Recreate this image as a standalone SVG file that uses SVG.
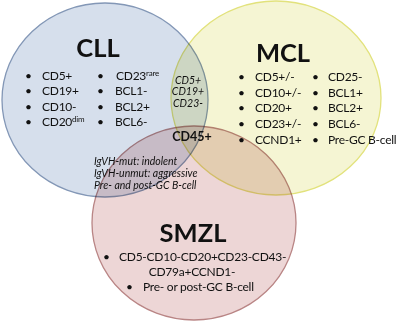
<svg xmlns="http://www.w3.org/2000/svg" width="400" height="322" viewBox="0 0 400 322">
<style>
.c{mix-blend-mode:multiply;stroke-width:1.3}
text{font-family:Lato,"Open Sans","Liberation Sans",sans-serif;fill:#111}
.t{font-size:25.5px;font-weight:bold;text-anchor:middle}
.b{font-size:12px;letter-spacing:-0.25px}
.i{font-size:10.5px;font-style:italic}
.m{font-size:10.5px;font-style:italic;text-anchor:middle}
.sup{font-size:8px}
</style>
<rect width="400" height="322" fill="#fff"/>
<g id="connectors"/>
<g id="cll">
<ellipse class="c" cx="105" cy="100" rx="103" ry="97" fill="#d6dfec" stroke="#8397b6"/>
<text class="t" x="98" y="57">CLL</text>
<g class="b">
<text x="25" y="79.5">•</text><text x="42" y="79.5">CD5+</text>
<text x="25" y="95">•</text><text x="42" y="95">CD19+</text>
<text x="25" y="110.5">•</text><text x="42" y="110.5">CD10-</text>
<text x="25" y="126">•</text><text x="42" y="126">CD20<tspan class="sup" dy="-4">dim</tspan></text>
<text x="97" y="79.5">•</text><text x="116" y="79.5">CD23<tspan class="sup" dy="-4">rare</tspan></text>
<text x="97" y="95">•</text><text x="115" y="95">BCL1-</text>
<text x="97" y="110.5">•</text><text x="115" y="110.5">BCL2+</text>
<text x="97" y="126">•</text><text x="115" y="126">BCL6-</text>
</g>
<text class="i" x="94" y="164.5">IgVH-mut: indolent</text>
<text class="i" x="94" y="176.5">IgVH-unmut: aggressive</text>
<text class="i" x="94" y="188.5">Pre- and post-GC B-cell</text>
</g>
<g id="mcl">
<ellipse class="c" cx="276" cy="98" rx="105" ry="97" fill="#f5f5d3" stroke="#e2e27c"/>
<text class="t" x="283" y="62">MCL</text>
<g class="b">
<text x="238" y="81">•</text><text x="255" y="81">CD5+/-</text>
<text x="238" y="96.5">•</text><text x="255" y="96.5">CD10+/-</text>
<text x="238" y="112">•</text><text x="255" y="112">CD20+</text>
<text x="238" y="128">•</text><text x="255" y="128">CD23+/-</text>
<text x="238" y="144">•</text><text x="255" y="144">CCND1+</text>
<text x="312" y="81">•</text><text x="328" y="81">CD25-</text>
<text x="312" y="96.5">•</text><text x="328" y="96.5">BCL1+</text>
<text x="312" y="112">•</text><text x="328" y="112">BCL2+</text>
<text x="312" y="128">•</text><text x="328" y="128">BCL6-</text>
<text x="312" y="144">•</text><text x="328" y="144">Pre-GC B-cell</text>
</g>
</g>
<g id="cll-mcl">
<text class="m" x="188" y="83.5">CD5+</text>
<text class="m" x="188" y="95">CD19+</text>
<text class="m" x="188" y="106.5">CD23-</text>
</g>
<g id="smzl">
<ellipse class="c" cx="194" cy="223" rx="102" ry="97" fill="#edd6d6" stroke="#b98585"/>
<text class="t" x="193" y="242">SMZL</text>
<g class="b">
<text x="103" y="261">•</text><text x="119" y="261">CD5-CD10-CD20+CD23-CD43-</text>
<text x="192" y="276" text-anchor="middle">CD79a+CCND1-</text>
<text x="126" y="291">•</text><text x="143" y="291">Pre- or post-GC B-cell</text>
</g>
</g>
<g id="all">
<text x="192" y="141" style="font-size:12.5px;font-weight:bold;text-anchor:middle">CD45+</text>
</g>
</svg>
